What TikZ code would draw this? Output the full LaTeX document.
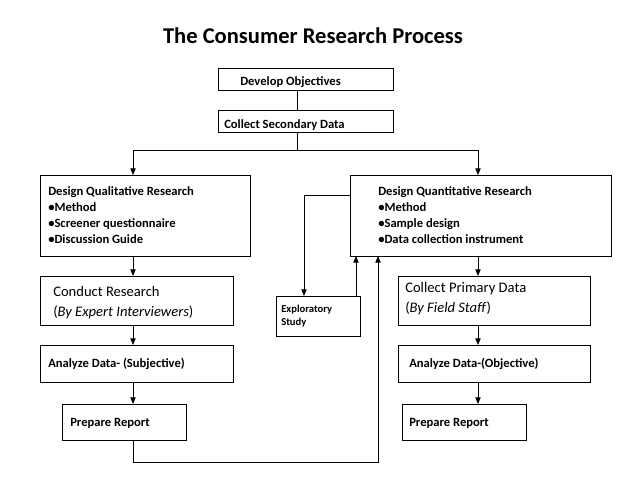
\documentclass[tikz,border=0pt]{standalone}
\usepackage{fontspec}
\setmainfont{Carlito}
\usetikzlibrary{arrows.meta}
\begin{document}
\begin{tikzpicture}[x=0.0265cm,y=-0.0265cm,
  box/.style={draw,line width=0.6pt},
  lbl/.style={anchor=west,font=\bfseries\fontsize{9.5}{12}\selectfont,align=left,inner sep=0},
  big/.style={anchor=west,font=\fontsize{11}{15}\selectfont,align=left,inner sep=0},
  arr/.style={-{Triangle[length=5pt,width=4pt]},line width=0.6pt},
  ln/.style={line width=0.6pt}]
\useasboundingbox (0,0) rectangle (638,478);
\node[font=\bfseries\fontsize{17}{20}\selectfont] (title) at (313,36) {The Consumer Research Process};
\draw[box] (218,68) rectangle (393,90); \node[lbl] (dev) at (240,82) {Develop Objectives};
\draw[box] (218,110) rectangle (393,132); \node[lbl] (sec) at (224,125) {Collect Secondary Data};
\draw[ln] (297,90) -- (297,110);
\draw[ln] (297,132) -- (297,150) coordinate (m);
\draw[ln] (133,150) -- (478,150);
\draw[arr] (133,150) -- (133,175);
\draw[arr] (478,150) -- (478,175);
\draw[box] (40,175) rectangle (250,256);
\node[lbl] (ql) at (48,215) {Design Qualitative Research\\•Method\\•Screener questionnaire\\•Discussion Guide};
\draw[box] (350,175) rectangle (611,256);
\node[lbl] (qn) at (378,215) {Design Quantitative Research\\•Method\\•Sample design\\•Data collection instrument};
\draw[box] (40,276) rectangle (233,325);
\node[big] (cr) at (53,303) {Conduct Research\\(\textit{By Expert Interviewers})};
\draw[box] (398,276) rectangle (590,325);
\node[big] (cp) at (405,299) {Collect Primary Data\\(\textit{By Field Staff})};
\draw[box] (276,296) rectangle (360,336);
\node[lbl,font=\bfseries\fontsize{8}{10}\selectfont] (ex) at (281,316) {Exploratory\\Study};
\draw[box] (40,345) rectangle (233,382); \node[lbl] (as) at (48,364) {Analyze Data- (Subjective)};
\draw[box] (398,345) rectangle (590,382); \node[lbl] (ao) at (409,364) {Analyze Data-(Objective)};
\draw[box] (62,404) rectangle (186,440); \node[lbl] (pl) at (70,423) {Prepare Report};
\draw[box] (402,404) rectangle (526,440); \node[lbl] (pr) at (409,423) {Prepare Report};
\draw[arr] (133,256) -- (133,276);
\draw[arr] (133,325) -- (133,345);
\draw[arr] (133,382) -- (133,404);
\draw[arr] (478,256) -- (478,276);
\draw[arr] (478,325) -- (478,345);
\draw[arr] (478,382) -- (478,404);
\draw[arr] (350,195) -- (304,195) -- (304,296);
\draw[arr] (356,296) -- (356,256);
\draw[arr] (133,440) -- (133,462) -- (378,462) -- (378,256);
\end{tikzpicture}
\end{document}
